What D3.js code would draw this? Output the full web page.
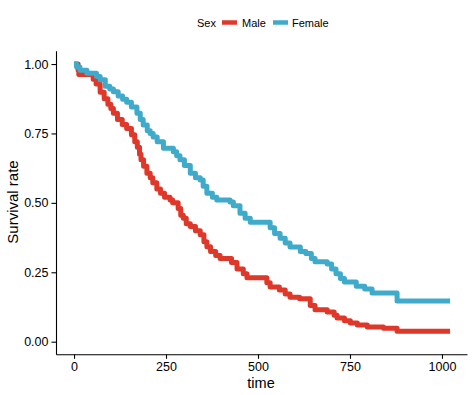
<!DOCTYPE html>
<html>
<head>
<meta charset="utf-8">
<script src="https://cdn.jsdelivr.net/npm/d3@7"></script>
<style>
body { margin: 0; background: #fff; }
svg { font-family: "Liberation Sans", Arial, sans-serif; }
</style>
</head>
<body>
<div id="chart"></div>
<script>
// survival curves (time of each step, survival after it)
var groups = ['Male', 'Female']
var colors = ['#DE382B', '#40AACB']
var maleTime = [0, 11, 13, 52, 60, 71, 82, 92, 100, 107, 118, 131, 143, 156, 165, 172, 178, 182, 189, 198, 207, 214, 225, 235, 246, 261, 268, 283, 290, 297, 305, 316, 330, 343, 353, 361, 371, 385, 397, 428, 443, 460, 470, 524, 533, 558, 574, 587, 613, 642, 655, 688, 707, 715, 735, 751, 770, 797, 841, 878, 1022]
var maleSurv = [1, 0.978, 0.962, 0.945, 0.928, 0.898, 0.875, 0.855, 0.84, 0.823, 0.80, 0.782, 0.768, 0.745, 0.72, 0.70, 0.675, 0.655, 0.632, 0.607, 0.59, 0.572, 0.55, 0.535, 0.52, 0.51, 0.50, 0.48, 0.455, 0.445, 0.425, 0.415, 0.40, 0.385, 0.36, 0.342, 0.325, 0.31, 0.30, 0.285, 0.262, 0.245, 0.23, 0.212, 0.197, 0.186, 0.172, 0.16, 0.155, 0.13, 0.115, 0.107, 0.095, 0.085, 0.075, 0.067, 0.06, 0.053, 0.048, 0.038, 0.038]
var femaleTime = [0, 7, 16, 35, 61, 71, 85, 97, 107, 120, 132, 143, 156, 171, 180, 188, 199, 207, 215, 226, 243, 270, 279, 288, 300, 316, 330, 343, 351, 361, 376, 388, 424, 433, 451, 465, 479, 533, 545, 560, 574, 587, 615, 630, 645, 655, 688, 700, 712, 724, 735, 767, 790, 810, 878, 1022]
var femaleSurv = [1, 0.989, 0.978, 0.967, 0.955, 0.943, 0.92, 0.91, 0.90, 0.885, 0.873, 0.862, 0.845, 0.823, 0.80, 0.78, 0.76, 0.75, 0.737, 0.72, 0.697, 0.684, 0.67, 0.655, 0.635, 0.607, 0.59, 0.582, 0.56, 0.535, 0.52, 0.51, 0.503, 0.49, 0.463, 0.445, 0.43, 0.41, 0.39, 0.373, 0.355, 0.341, 0.325, 0.318, 0.30, 0.288, 0.28, 0.262, 0.245, 0.228, 0.215, 0.20, 0.19, 0.175, 0.147, 0.147]
var xTicks = [0, 250, 500, 750, 1000]
var yTicks = [0, 0.25, 0.5, 0.75, 1]

var W = 474, H = 395
var svg = d3.select('#chart').append('svg')
	.attr('width', W)
	.attr('height', H)

var x = d3.scaleLinear().domain([-49, 1068]).range([56, 467])
var y = d3.scaleLinear().domain([-0.0454, 1.048]).range([354.3, 50.7])

var line = d3.line()
	.x(d => x(d[0]))
	.y(d => y(d[1]))
	.curve(d3.curveStepAfter)

var series = [d3.zip(maleTime, maleSurv), d3.zip(femaleTime, femaleSurv)]
series.forEach(function(s, i){
	svg.append('path')
		.datum(s)
		.attr('d', line)
		.attr('fill', 'none')
		.attr('stroke', colors[i])
		.attr('stroke-width', 5)
		.attr('stroke-linejoin', 'round')
})

svg.append('g')
	.attr('transform', 'translate(0,354.3)')
	.call(d3.axisBottom(x).tickValues(xTicks).tickSizeInner(4.5).tickSizeOuter(0).tickPadding(3)
		.tickFormat(d3.format('d')))
svg.append('g')
	.attr('transform', 'translate(56,0)')
	.call(d3.axisLeft(y).tickValues(yTicks).tickSizeInner(4.5).tickSizeOuter(0).tickPadding(3)
		.tickFormat(d3.format('.2f')))

svg.selectAll('.tick text')
	.attr('fill', '#000')
	.style('font-size', '12.5px')
	.style('font-family', '"Liberation Sans", Arial, sans-serif')
svg.selectAll('.domain, .tick line')
	.attr('stroke', '#000')
	.attr('stroke-width', 1.1)

svg.append('text')
	.attr('x', 261)
	.attr('y', 388)
	.attr('text-anchor', 'middle')
	.style('font-size', '14.5px')
	.text('time')

svg.append('text')
	.attr('transform', 'translate(18,202) rotate(-90)')
	.attr('text-anchor', 'middle')
	.style('font-size', '15px')
	.text('Survival rate')

// legend
var legend = svg.append('g').style('font-size', '11px')
legend.append('text').attr('x', 197).attr('y', 26.5).text('Sex')
var legendX = [[222, 242], [273, 292]]
groups.forEach(function(g, i){
	legend.append('line')
		.attr('x1', legendX[i][0]).attr('x2', legendX[i][0] + 15)
		.attr('y1', 22.5).attr('y2', 22.5)
		.attr('stroke', colors[i])
		.attr('stroke-width', 4.5)
	legend.append('text')
		.attr('x', legendX[i][1])
		.attr('y', 26.5)
		.text(g)
})
</script>
</body>
</html>
